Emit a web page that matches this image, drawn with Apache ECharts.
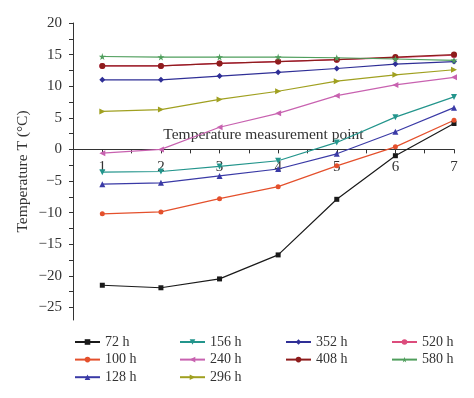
<!DOCTYPE html>
<html>
<head>
<meta charset="utf-8">
<script src="https://cdn.jsdelivr.net/npm/echarts@6/dist/echarts.min.js"></script>
<style>
  html, body { margin: 0; padding: 0; background: #fff; }
  #chart { width: 474px; height: 398px; }
</style>
</head>
<body>
<div id="chart"></div>
<script>
// measurement points on the x axis
var points = [1, 2, 3, 4, 5, 6, 7];

// temperatures (°C)
var t72 = [-21.5, -21.9, -20.5, -16.7, -7.9, -1.0, 4.1];
var t100 = [-10.2, -9.9, -7.8, -5.9, -2.6, 0.4, 4.6];
var t128 = [-5.5, -5.3, -4.2, -3.1, -0.7, 2.8, 6.6];
var t156 = [-3.6, -3.5, -2.7, -1.8, 1.1, 5.1, 8.3];
var t240 = [-0.6, 0.0, 3.5, 5.7, 8.5, 10.2, 11.4];
var t296 = [6.0, 6.3, 7.9, 9.2, 10.8, 11.8, 12.6];
var t352 = [11.0, 11.0, 11.6, 12.2, 12.8, 13.5, 13.9];
var t408 = [13.2, 13.2, 13.6, 13.9, 14.2, 14.6, 15.0];
var t520 = [13.2, 13.2, 13.6, 13.9, 14.2, 14.5, 14.9];
var t580 = [14.7, 14.6, 14.6, 14.6, 14.5, 14.3, 14.1];

var yLabels = [-25, -20, -15, -10, -5, 0, 5, 10, 15, 20];
var yTicks = [-25, -22.5, -20, -17.5, -15, -12.5, -10, -7.5, -5, -2.5, 0,
  2.5, 5, 7.5, 10, 12.5, 15, 17.5, 20];
var xTicks = [1, 1.5, 2, 2.5, 3, 3.5, 4, 4.5, 5, 5.5, 6, 6.5, 7];

var yMin = -27, yMax = 20;
var gridTop = 23, gridBottom = 78, chartH = 398;

var serif = 'Liberation Serif';
var axisColor = '#333';
var star = 'path://M50,0 L61,35 L98,35 L68,57 L79,91 L50,70 L21,91 L32,57 L2,35 L39,35 Z';

// x axis sits on y = 0: lift it from the grid bottom by that distance
var plotH = chartH - gridTop - gridBottom;
var zeroLift = plotH * (0 - yMin) / (yMax - yMin);

function pairs(vals) {
  return vals.map(function (v, i) { return [points[i], v]; });
}

function line(name, vals, color, symbol, size, rotate, z) {
  return {
    name: name,
    type: 'line',
    data: pairs(vals),
    symbol: symbol,
    symbolSize: size,
    symbolRotate: rotate || 0,
    z: z || 2,
    itemStyle: { color: color },
    lineStyle: { color: color, width: 1.2 },
    emphasis: { disabled: true },
    animation: false
  };
}

function legendBox(names, left) {
  return {
    data: names,
    orient: 'vertical',
    left: left,
    top: 335,
    padding: 0,
    itemWidth: 25,
    itemHeight: 7,
    itemGap: 3.6,
    textStyle: { fontFamily: serif, fontSize: 14, color: '#333', lineHeight: 14 }
  };
}

var chart = echarts.init(document.getElementById('chart'), null, { renderer: 'canvas' });

chart.setOption({
  backgroundColor: '#fff',
  grid: { left: 73, right: 20, top: gridTop, bottom: gridBottom, outerBoundsMode: 'none' },
  legend: [
    legendBox(['72 h', '100 h', '128 h'], 74),
    legendBox(['156 h', '240 h', '296 h'], 179),
    legendBox(['352 h', '408 h'], 285),
    legendBox(['520 h', '580 h'], 391)
  ],
  xAxis: {
    type: 'value',
    position: 'bottom',
    offset: -zeroLift,
    min: 0.5,
    max: 7,
    name: 'Temperature measurement point',
    nameLocation: 'middle',
    nameGap: -22,
    nameMoveOverlap: false,
    nameTextStyle: { fontFamily: serif, fontSize: 15.5, color: '#333' },
    axisLine: { onZero: false, lineStyle: { color: axisColor, width: 1 } },
    axisTick: { customValues: xTicks, length: 4, lineStyle: { color: axisColor } },
    axisLabel: { customValues: points, margin: 10, fontFamily: serif, fontSize: 15, color: '#333' },
    splitLine: { show: false }
  },
  yAxis: {
    type: 'value',
    min: yMin,
    max: yMax,
    name: 'Temperature T (°C)',
    nameLocation: 'middle',
    nameGap: 42,
    nameMoveOverlap: false,
    nameTextStyle: { fontFamily: serif, fontSize: 15.5, color: '#333' },
    axisLine: { show: true, onZero: false, lineStyle: { color: axisColor, width: 1 } },
    axisTick: { customValues: yTicks, length: 4, lineStyle: { color: axisColor } },
    axisLabel: {
      customValues: yLabels,
      margin: 11,
      fontFamily: serif,
      fontSize: 15,
      color: '#333',
      formatter: function (v) { return String(v).replace('-', '\u2212'); }
    },
    splitLine: { show: false }
  },
  series: [
    line('72 h', t72, '#1a1a1a', 'rect', 5, 0, 3),
    line('100 h', t100, '#e4502c', 'circle', 5, 0, 3),
    line('128 h', t128, '#3a3aa6', 'triangle', 6, 0, 3),
    line('156 h', t156, '#23958c', 'triangle', 6, 180, 3),
    line('240 h', t240, '#c862b0', 'triangle', 6, 90, 3),
    line('296 h', t296, '#a0a020', 'triangle', 6, -90, 3),
    line('352 h', t352, '#2f2f96', 'diamond', 6, 0, 3),
    line('408 h', t408, '#8e1c1c', 'circle', 6, 0, 3),
    line('520 h', t520, '#dc4c7c', 'circle', 6, 0, 2),
    line('580 h', t580, '#4f9e5c', star, 7, 0, 4)
  ]
});
</script>
</body>
</html>
